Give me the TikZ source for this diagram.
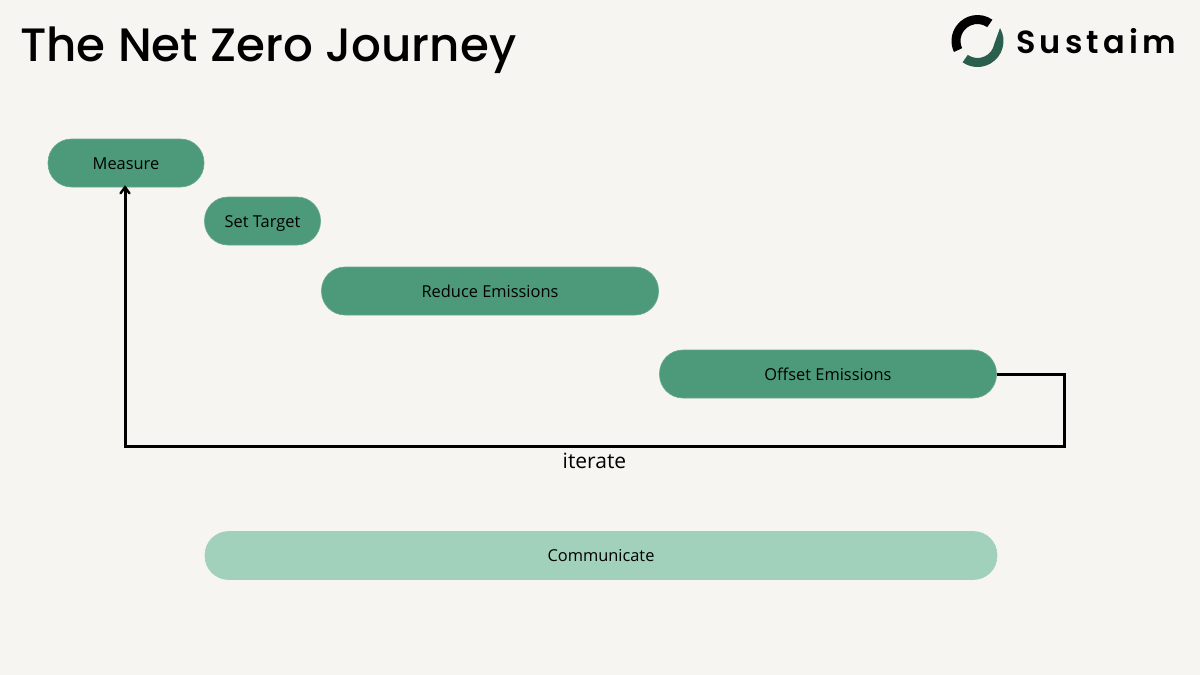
\documentclass[tikz,border=0pt]{standalone}
\usepackage{fontspec}
\setmainfont{Open Sans}
\newfontfamily\titlefont{Poppins Medium}
\newfontfamily\logofont[LetterSpace=13]{Poppins SemiBold}
\definecolor{bgc}{HTML}{F7F5F1}
\definecolor{stepc}{HTML}{4C9A7A}
\definecolor{commc}{HTML}{A1D0BB}
\definecolor{logog}{HTML}{2A5F4E}
\tikzset{
  x=1pt,y=-1pt,
  pill/.style={rounded corners=23.5pt,minimum height=48pt,inner sep=0pt,fill=stepc,draw=stepc!85!white,line width=.6pt,text=black,text height=14.5pt,text depth=2pt,font=\fontsize{16.4}{18}\selectfont},
  lightpill/.style={pill,fill=commc,draw=commc},
  link/.style={line width=3pt,black},
}
\begin{document}
\begin{tikzpicture}
\path[use as bounding box,fill=bgc] (0,0) rectangle (1200,675);
\node[anchor=base west,inner sep=0pt,font=\titlefont\fontsize{46.8}{54}\selectfont] (title) at (20,61) {The Net Zero Journey};
\node[pill,minimum width=156pt] (measure) at (126,163) {Measure};
\node[pill,minimum width=116pt] (target) at (262.5,221) {Set Target};
\node[pill,minimum width=337pt] (reduce) at (490,291) {Reduce Emissions};
\node[pill,minimum width=337pt] (offset) at (828,374) {Offset Emissions};
\node[lightpill,minimum width=792pt] (comm) at (601,555.5) {Communicate};
\coordinate (tip) at ([xshift=-1pt]measure.south);
\coordinate (c1) at (1064.5,374);
\coordinate (c2) at (1064.5,446.5);
\coordinate (c3) at (tip |- c2);
\draw[link,line join=miter] (offset.east) -- (c1) -- (c2) -- (c3) -- (tip);
\draw[link,line cap=round,line width=2.4pt,line join=miter] ([xshift=-4.5pt,yshift=-6pt]tip) -- (tip) -- ([xshift=4.5pt,yshift=-6pt]tip);
\node[anchor=base,inner sep=0pt,font=\fontsize{21}{24}\selectfont] (iter) at (594.5,468) {iterate};
% logo
\begin{scope}[shift={(977.5,41)},y=1pt]
\fill[black] (55:26) arc[start angle=55,end angle=205,radius=26] -- (205:17) arc[start angle=205,end angle=55,radius=17] -- cycle;
\fill[logog] (30:26) arc[start angle=30,end angle=-125,radius=26] -- (-125:17) arc[start angle=-125,end angle=-10,radius=17] -- cycle;
\end{scope}
\node[anchor=base west,inner sep=0pt,font=\logofont\fontsize{32}{36}\selectfont] (logo) at (1016,53.5) {Sustaim};
\end{tikzpicture}
\end{document}
